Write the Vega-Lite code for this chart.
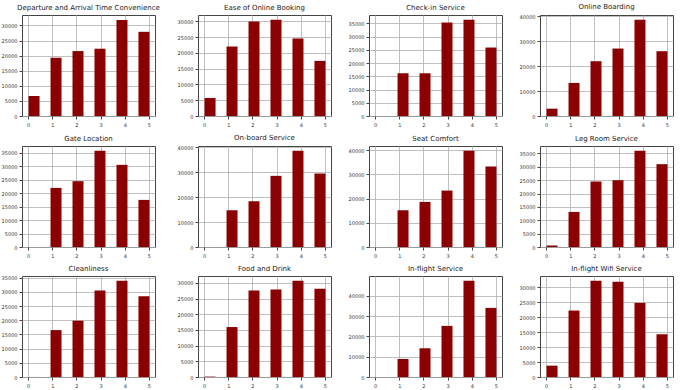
{
  "$schema": "https://vega.github.io/schema/vega-lite/v6.json",
  "background": "white",
  "padding": {"left": 0, "top": 2, "right": 2, "bottom": 2},
  "data": {"values": [
    {"panel": "Departure and Arrival Time Convenience", "rating": 0, "count": 6620},
    {"panel": "Departure and Arrival Time Convenience", "rating": 1, "count": 19300},
    {"panel": "Departure and Arrival Time Convenience", "rating": 2, "count": 21520},
    {"panel": "Departure and Arrival Time Convenience", "rating": 3, "count": 22300},
    {"panel": "Departure and Arrival Time Convenience", "rating": 4, "count": 31800},
    {"panel": "Departure and Arrival Time Convenience", "rating": 5, "count": 27900},
    {"panel": "Ease of Online Booking", "rating": 0, "count": 5720},
    {"panel": "Ease of Online Booking", "rating": 1, "count": 22030},
    {"panel": "Ease of Online Booking", "rating": 2, "count": 30000},
    {"panel": "Ease of Online Booking", "rating": 3, "count": 30500},
    {"panel": "Ease of Online Booking", "rating": 4, "count": 24580},
    {"panel": "Ease of Online Booking", "rating": 5, "count": 17480},
    {"panel": "Check-in Service", "rating": 0, "count": 1},
    {"panel": "Check-in Service", "rating": 1, "count": 16160},
    {"panel": "Check-in Service", "rating": 2, "count": 16150},
    {"panel": "Check-in Service", "rating": 3, "count": 35350},
    {"panel": "Check-in Service", "rating": 4, "count": 36360},
    {"panel": "Check-in Service", "rating": 5, "count": 25880},
    {"panel": "Online Boarding", "rating": 0, "count": 2940},
    {"panel": "Online Boarding", "rating": 1, "count": 13240},
    {"panel": "Online Boarding", "rating": 2, "count": 21940},
    {"panel": "Online Boarding", "rating": 3, "count": 27020},
    {"panel": "Online Boarding", "rating": 4, "count": 38530},
    {"panel": "Online Boarding", "rating": 5, "count": 25950},
    {"panel": "Gate Location", "rating": 0, "count": 1},
    {"panel": "Gate Location", "rating": 1, "count": 21960},
    {"panel": "Gate Location", "rating": 2, "count": 24440},
    {"panel": "Gate Location", "rating": 3, "count": 35730},
    {"panel": "Gate Location", "rating": 4, "count": 30520},
    {"panel": "Gate Location", "rating": 5, "count": 17490},
    {"panel": "On-board Service", "rating": 0, "count": 5},
    {"panel": "On-board Service", "rating": 1, "count": 14770},
    {"panel": "On-board Service", "rating": 2, "count": 18390},
    {"panel": "On-board Service", "rating": 3, "count": 28590},
    {"panel": "On-board Service", "rating": 4, "count": 38660},
    {"panel": "On-board Service", "rating": 5, "count": 29530},
    {"panel": "Seat Comfort", "rating": 0, "count": 1},
    {"panel": "Seat Comfort", "rating": 1, "count": 15170},
    {"panel": "Seat Comfort", "rating": 2, "count": 18620},
    {"panel": "Seat Comfort", "rating": 3, "count": 23310},
    {"panel": "Seat Comfort", "rating": 4, "count": 39720},
    {"panel": "Seat Comfort", "rating": 5, "count": 33240},
    {"panel": "Leg Room Service", "rating": 0, "count": 560},
    {"panel": "Leg Room Service", "rating": 1, "count": 13125},
    {"panel": "Leg Room Service", "rating": 2, "count": 24500},
    {"panel": "Leg Room Service", "rating": 3, "count": 25000},
    {"panel": "Leg Room Service", "rating": 4, "count": 36000},
    {"panel": "Leg Room Service", "rating": 5, "count": 31000},
    {"panel": "Cleanliness", "rating": 0, "count": 14},
    {"panel": "Cleanliness", "rating": 1, "count": 16550},
    {"panel": "Cleanliness", "rating": 2, "count": 19860},
    {"panel": "Cleanliness", "rating": 3, "count": 30500},
    {"panel": "Cleanliness", "rating": 4, "count": 33930},
    {"panel": "Cleanliness", "rating": 5, "count": 28490},
    {"panel": "Food and Drink", "rating": 0, "count": 132},
    {"panel": "Food and Drink", "rating": 1, "count": 15920},
    {"panel": "Food and Drink", "rating": 2, "count": 27560},
    {"panel": "Food and Drink", "rating": 3, "count": 27880},
    {"panel": "Food and Drink", "rating": 4, "count": 30660},
    {"panel": "Food and Drink", "rating": 5, "count": 28100},
    {"panel": "In-flight Service", "rating": 0, "count": 5},
    {"panel": "In-flight Service", "rating": 1, "count": 8890},
    {"panel": "In-flight Service", "rating": 2, "count": 14160},
    {"panel": "In-flight Service", "rating": 3, "count": 25190},
    {"panel": "In-flight Service", "rating": 4, "count": 47410},
    {"panel": "In-flight Service", "rating": 5, "count": 34070},
    {"panel": "In-flight Wifi Service", "rating": 0, "count": 3800},
    {"panel": "In-flight Wifi Service", "rating": 1, "count": 22280},
    {"panel": "In-flight Wifi Service", "rating": 2, "count": 32240},
    {"panel": "In-flight Wifi Service", "rating": 3, "count": 31900},
    {"panel": "In-flight Wifi Service", "rating": 4, "count": 24850},
    {"panel": "In-flight Wifi Service", "rating": 5, "count": 14330}
  ]},
  "columns": 4,
  "spacing": {"row": 5, "column": 15},
  "concat": [
    {"title": "Departure and Arrival Time Convenience",
     "transform": [{"filter": "datum.panel === 'Departure and Arrival Time Convenience'"}],
     "mark": {"type": "bar", "color": "#8b0000", "binSpacing": 0},
     "encoding": {
       "x": {"field": "rating", "type": "quantitative", "bin": {"extent": [0, 5], "step": 0.4545454546, "nice": false}, "scale": {"domain": [-0.25, 5.25], "nice": false, "zero": false}, "axis": {"values": [0, 1, 2, 3, 4, 5], "grid": true}},
       "y": {"field": "count", "type": "quantitative", "aggregate": "sum", "scale": {"domain": [0, 33474], "nice": false}, "axis": {"values": [0, 5000, 10000, 15000, 20000, 25000, 30000], "grid": true}}
     }},
    {"title": "Ease of Online Booking",
     "transform": [{"filter": "datum.panel === 'Ease of Online Booking'"}],
     "mark": {"type": "bar", "color": "#8b0000", "binSpacing": 0},
     "encoding": {
       "x": {"field": "rating", "type": "quantitative", "bin": {"extent": [0, 5], "step": 0.4545454546, "nice": false}, "scale": {"domain": [-0.25, 5.25], "nice": false, "zero": false}, "axis": {"values": [0, 1, 2, 3, 4, 5], "grid": true}},
       "y": {"field": "count", "type": "quantitative", "aggregate": "sum", "scale": {"domain": [0, 32025], "nice": false}, "axis": {"values": [0, 5000, 10000, 15000, 20000, 25000, 30000], "grid": true}}
     }},
    {"title": "Check-in Service",
     "transform": [{"filter": "datum.panel === 'Check-in Service'"}],
     "mark": {"type": "bar", "color": "#8b0000", "binSpacing": 0},
     "encoding": {
       "x": {"field": "rating", "type": "quantitative", "bin": {"extent": [0, 5], "step": 0.4545454546, "nice": false}, "scale": {"domain": [-0.25, 5.25], "nice": false, "zero": false}, "axis": {"values": [0, 1, 2, 3, 4, 5], "grid": true}},
       "y": {"field": "count", "type": "quantitative", "aggregate": "sum", "scale": {"domain": [0, 38178], "nice": false}, "axis": {"values": [0, 5000, 10000, 15000, 20000, 25000, 30000, 35000], "grid": true}}
     }},
    {"title": "Online Boarding",
     "transform": [{"filter": "datum.panel === 'Online Boarding'"}],
     "mark": {"type": "bar", "color": "#8b0000", "binSpacing": 0},
     "encoding": {
       "x": {"field": "rating", "type": "quantitative", "bin": {"extent": [0, 5], "step": 0.4545454546, "nice": false}, "scale": {"domain": [-0.25, 5.25], "nice": false, "zero": false}, "axis": {"values": [0, 1, 2, 3, 4, 5], "grid": true}},
       "y": {"field": "count", "type": "quantitative", "aggregate": "sum", "scale": {"domain": [0, 40457], "nice": false}, "axis": {"values": [0, 10000, 20000, 30000, 40000], "grid": true}}
     }},
    {"title": "Gate Location",
     "transform": [{"filter": "datum.panel === 'Gate Location'"}],
     "mark": {"type": "bar", "color": "#8b0000", "binSpacing": 0},
     "encoding": {
       "x": {"field": "rating", "type": "quantitative", "bin": {"extent": [0, 5], "step": 0.4545454546, "nice": false}, "scale": {"domain": [-0.25, 5.25], "nice": false, "zero": false}, "axis": {"values": [0, 1, 2, 3, 4, 5], "grid": true}},
       "y": {"field": "count", "type": "quantitative", "aggregate": "sum", "scale": {"domain": [0, 37517], "nice": false}, "axis": {"values": [0, 5000, 10000, 15000, 20000, 25000, 30000, 35000], "grid": true}}
     }},
    {"title": "On-board Service",
     "transform": [{"filter": "datum.panel === 'On-board Service'"}],
     "mark": {"type": "bar", "color": "#8b0000", "binSpacing": 0},
     "encoding": {
       "x": {"field": "rating", "type": "quantitative", "bin": {"extent": [0, 5], "step": 0.4545454546, "nice": false}, "scale": {"domain": [-0.25, 5.25], "nice": false, "zero": false}, "axis": {"values": [0, 1, 2, 3, 4, 5], "grid": true}},
       "y": {"field": "count", "type": "quantitative", "aggregate": "sum", "scale": {"domain": [0, 40593], "nice": false}, "axis": {"values": [0, 10000, 20000, 30000, 40000], "grid": true}}
     }},
    {"title": "Seat Comfort",
     "transform": [{"filter": "datum.panel === 'Seat Comfort'"}],
     "mark": {"type": "bar", "color": "#8b0000", "binSpacing": 0},
     "encoding": {
       "x": {"field": "rating", "type": "quantitative", "bin": {"extent": [0, 5], "step": 0.4545454546, "nice": false}, "scale": {"domain": [-0.25, 5.25], "nice": false, "zero": false}, "axis": {"values": [0, 1, 2, 3, 4, 5], "grid": true}},
       "y": {"field": "count", "type": "quantitative", "aggregate": "sum", "scale": {"domain": [0, 41706], "nice": false}, "axis": {"values": [0, 10000, 20000, 30000, 40000], "grid": true}}
     }},
    {"title": "Leg Room Service",
     "transform": [{"filter": "datum.panel === 'Leg Room Service'"}],
     "mark": {"type": "bar", "color": "#8b0000", "binSpacing": 0},
     "encoding": {
       "x": {"field": "rating", "type": "quantitative", "bin": {"extent": [0, 5], "step": 0.4545454546, "nice": false}, "scale": {"domain": [-0.25, 5.25], "nice": false, "zero": false}, "axis": {"values": [0, 1, 2, 3, 4, 5], "grid": true}},
       "y": {"field": "count", "type": "quantitative", "aggregate": "sum", "scale": {"domain": [0, 37800], "nice": false}, "axis": {"values": [0, 5000, 10000, 15000, 20000, 25000, 30000, 35000], "grid": true}}
     }},
    {"title": "Cleanliness",
     "transform": [{"filter": "datum.panel === 'Cleanliness'"}],
     "mark": {"type": "bar", "color": "#8b0000", "binSpacing": 0},
     "encoding": {
       "x": {"field": "rating", "type": "quantitative", "bin": {"extent": [0, 5], "step": 0.4545454546, "nice": false}, "scale": {"domain": [-0.25, 5.25], "nice": false, "zero": false}, "axis": {"values": [0, 1, 2, 3, 4, 5], "grid": true}},
       "y": {"field": "count", "type": "quantitative", "aggregate": "sum", "scale": {"domain": [0, 35627], "nice": false}, "axis": {"values": [0, 5000, 10000, 15000, 20000, 25000, 30000, 35000], "grid": true}}
     }},
    {"title": "Food and Drink",
     "transform": [{"filter": "datum.panel === 'Food and Drink'"}],
     "mark": {"type": "bar", "color": "#8b0000", "binSpacing": 0},
     "encoding": {
       "x": {"field": "rating", "type": "quantitative", "bin": {"extent": [0, 5], "step": 0.4545454546, "nice": false}, "scale": {"domain": [-0.25, 5.25], "nice": false, "zero": false}, "axis": {"values": [0, 1, 2, 3, 4, 5], "grid": true}},
       "y": {"field": "count", "type": "quantitative", "aggregate": "sum", "scale": {"domain": [0, 32193], "nice": false}, "axis": {"values": [0, 5000, 10000, 15000, 20000, 25000, 30000], "grid": true}}
     }},
    {"title": "In-flight Service",
     "transform": [{"filter": "datum.panel === 'In-flight Service'"}],
     "mark": {"type": "bar", "color": "#8b0000", "binSpacing": 0},
     "encoding": {
       "x": {"field": "rating", "type": "quantitative", "bin": {"extent": [0, 5], "step": 0.4545454546, "nice": false}, "scale": {"domain": [-0.25, 5.25], "nice": false, "zero": false}, "axis": {"values": [0, 1, 2, 3, 4, 5], "grid": true}},
       "y": {"field": "count", "type": "quantitative", "aggregate": "sum", "scale": {"domain": [0, 49781], "nice": false}, "axis": {"values": [0, 10000, 20000, 30000, 40000], "grid": true}}
     }},
    {"title": "In-flight Wifi Service",
     "transform": [{"filter": "datum.panel === 'In-flight Wifi Service'"}],
     "mark": {"type": "bar", "color": "#8b0000", "binSpacing": 0},
     "encoding": {
       "x": {"field": "rating", "type": "quantitative", "bin": {"extent": [0, 5], "step": 0.4545454546, "nice": false}, "scale": {"domain": [-0.25, 5.25], "nice": false, "zero": false}, "axis": {"values": [0, 1, 2, 3, 4, 5], "grid": true}},
       "y": {"field": "count", "type": "quantitative", "aggregate": "sum", "scale": {"domain": [0, 33852], "nice": false}, "axis": {"values": [0, 5000, 10000, 15000, 20000, 25000, 30000], "grid": true}}
     }}
  ],
  "config": {
    "font": "DejaVu Sans",
    "numberFormat": "d",
    "view": {"continuousWidth": 133, "continuousHeight": 101, "stroke": "#444", "strokeWidth": 1},
    "axis": {
      "title": null,
      "format": "d",
      "labelFont": "DejaVu Sans",
      "labelFontSize": 5,
      "labelColor": "#333",
      "tickColor": "#444",
      "tickSize": 3,
      "labelPadding": 2,
      "domain": false,
      "grid": true,
      "gridColor": "#b0b0b0",
      "gridWidth": 0.8,
      "zindex": 1
    },
    "axisX": {"labelAngle": 0, "labelPadding": 3},
    "title": {"font": "DejaVu Sans", "fontSize": 7, "fontWeight": "normal", "color": "#222", "offset": 4}
  }
}
